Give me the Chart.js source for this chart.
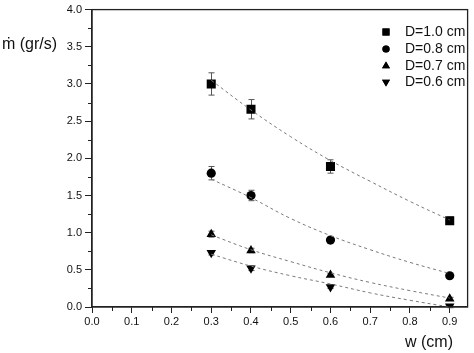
<!DOCTYPE html>
<html>
<head>
<meta charset="utf-8">
<script src="https://cdn.jsdelivr.net/npm/chart.js@4"></script>
<style>
  html, body { margin: 0; padding: 0; background: #fff; }
  #wrap { width: 474px; height: 353px; }
</style>
</head>
<body>
<div id="wrap"><canvas id="flowChart" width="474" height="353"></canvas></div>
<script>
// measured points
const widths = [0.3, 0.4, 0.6, 0.9];
const seriesLabels = ["D=1.0 cm", "D=0.8 cm", "D=0.7 cm", "D=0.6 cm"];
const flow10 = [3.00, 2.66, 1.89, 1.16];
const flow08 = [1.80, 1.50, 0.90, 0.42];
const flow07 = [0.98, 0.76, 0.43, 0.11];
const flow06 = [0.73, 0.52, 0.27, 0.01];
const err10 = [0.15, 0.13, 0.09, 0.05];
const err08 = [0.09, 0.07, 0.03, 0.02];
const err07 = [0.04, 0.03, 0.02, 0.02];
const err06 = [0.03, 0.03, 0.02, 0.02];

// fitted curves (dotted)
const fitW = [0.3, 0.4, 0.5, 0.6, 0.7, 0.8, 0.9];
const fit10 = [3.05, 2.65, 2.29, 1.97, 1.69, 1.42, 1.17];
const fit08 = [1.72, 1.47, 1.19, 0.96, 0.77, 0.60, 0.45];
const fit07 = [0.97, 0.77, 0.61, 0.46, 0.33, 0.22, 0.12];
const fit06 = [0.71, 0.55, 0.42, 0.31, 0.19, 0.09, 0.00];

const yTicks = [0, 0.5, 1, 1.5, 2, 2.5, 3, 3.5, 4];
const xTicks = [0, 0.1, 0.2, 0.3, 0.4, 0.5, 0.6, 0.7, 0.8, 0.9];

const pts = (xs, ys) => xs.map((x, i) => ({ x: x, y: ys[i] }));

const markerStyles = [
    { pointStyle: "rect", radius: 6.4, rotation: 0 },
    { pointStyle: "circle", radius: 4.6, rotation: 0 },
    { pointStyle: "triangle", radius: 5.5, rotation: 0 },
    { pointStyle: "triangle", radius: 5.5, rotation: 180 }
];
const flows = [flow10, flow08, flow07, flow06];
const errs = [err10, err08, err07, err06];
const fits = [fit10, fit08, fit07, fit06];

const datasets = [];
fits.forEach(f => {
    datasets.push({
        data: pts(fitW, f),
        showLine: true,
        borderColor: "#7a7a7a",
        borderWidth: 1,
        borderDash: [3, 3],
        pointRadius: 0,
        tension: 0.4,
        fill: false,
        isFit: true
    });
});
flows.forEach((f, i) => {
    datasets.push({
        label: seriesLabels[i],
        data: pts(widths, f),
        errors: errs[i],
        showLine: false,
        pointStyle: markerStyles[i].pointStyle,
        pointRadius: markerStyles[i].radius,
        pointRotation: markerStyles[i].rotation,
        backgroundColor: "#000",
        borderColor: "#000",
        borderWidth: 0
    });
});

const frameAndExtras = {
    id: "frameAndExtras",
    beforeDatasetsDraw(chart) {
        const { ctx, scales: { x, y } } = chart;
        // error bars
        ctx.save();
        ctx.strokeStyle = "#555";
        ctx.lineWidth = 1;
        chart.data.datasets.forEach(ds => {
            if (!ds.errors) return;
            ds.data.forEach((p, i) => {
                const e = ds.errors[i];
                const px = Math.round(x.getPixelForValue(p.x)) + 0.5;
                const top = y.getPixelForValue(p.y + e);
                const bot = y.getPixelForValue(p.y - e);
                ctx.beginPath();
                ctx.moveTo(px, top); ctx.lineTo(px, bot);
                ctx.moveTo(px - 3, top); ctx.lineTo(px + 3, top);
                ctx.moveTo(px - 3, bot); ctx.lineTo(px + 3, bot);
                ctx.stroke();
            });
        });
        ctx.restore();
    },
    afterDraw(chart) {
        const { ctx, chartArea: a, scales: { x, y } } = chart;
        ctx.save();
        // frame
        ctx.strokeStyle = "#222";
        ctx.lineWidth = 1.3;
        ctx.strokeRect(a.left, a.top, a.right - a.left, a.bottom - a.top);
        // minor ticks
        ctx.lineWidth = 1;
        ctx.beginPath();
        for (let v = 0.25; v < 4; v += 0.5) {
            const py = Math.round(y.getPixelForValue(v)) + 0.5;
            ctx.moveTo(a.left - 4, py); ctx.lineTo(a.left, py);
        }
        for (let v = 0.05; v < 0.94; v += 0.1) {
            const px = Math.round(x.getPixelForValue(v)) + 0.5;
            ctx.moveTo(px, a.bottom); ctx.lineTo(px, a.bottom + 4);
        }
        ctx.stroke();

        // axis titles
        ctx.fillStyle = "#111";
        ctx.font = "16px 'Liberation Sans', Arial, sans-serif";
        ctx.textBaseline = "middle";
        ctx.textAlign = "left";
        ctx.fillText("ṁ (gr/s)", 2, 45);
        ctx.fillText("w (cm)", 405, 343);

        // legend
        ctx.font = "14px 'Liberation Sans', Arial, sans-serif";
        const legendMarks = [
            { style: "rect", r: 5, rot: 0 },
            { style: "circle", r: 3.6, rot: 0 },
            { style: "triangle", r: 4.6, rot: 0 },
            { style: "triangle", r: 4.6, rot: 180 }
        ];
        const rowY = [32, 49, 66, 82];
        seriesLabels.forEach((lab, i) => {
            ctx.fillStyle = "#000";
            Chart.helpers.drawPoint(ctx, {
                pointStyle: legendMarks[i].style,
                radius: legendMarks[i].r,
                rotation: legendMarks[i].rot,
                borderWidth: 0
            }, 386, rowY[i]);
            ctx.fill();
            ctx.fillStyle = "#111";
            ctx.fillText(lab, 405, rowY[i]);
        });
        ctx.restore();
    }
};

const tickFont = { family: "'Liberation Sans', Arial, sans-serif", size: 11 };

new Chart(document.getElementById("flowChart").getContext("2d"), {
    type: "scatter",
    data: { datasets: datasets },
    options: {
        responsive: false,
        animation: false,
        layout: { padding: { top: 7, right: 4, left: 0, bottom: 0 } },
        plugins: { legend: { display: false }, tooltip: { enabled: false } },
        scales: {
            x: {
                type: "linear",
                min: 0,
                max: 0.945,
                afterBuildTicks: s => { s.ticks = xTicks.map(v => ({ value: v })); },
                afterFit: s => { s.height = 46; },
                ticks: {
                    font: tickFont,
                    color: "#111",
                    padding: 2,
                    autoSkip: false,
                    maxRotation: 0,
                    callback: v => v.toFixed(1)
                },
                grid: { drawOnChartArea: false, tickLength: 6, color: "#222", tickWidth: 1 },
                border: { display: true, color: "#222", width: 1.3 }
            },
            y: {
                type: "linear",
                min: 0,
                max: 4,
                afterBuildTicks: s => { s.ticks = yTicks.map(v => ({ value: v })); },
                afterFit: s => { s.width = 92; },
                ticks: {
                    font: tickFont,
                    color: "#111",
                    padding: 3,
                    autoSkip: false,
                    callback: v => v.toFixed(1)
                },
                grid: { drawOnChartArea: false, tickLength: 7, color: "#222", tickWidth: 1 },
                border: { display: true, color: "#222", width: 1.3 }
            }
        }
    },
    plugins: [frameAndExtras]
});
</script>
</body>
</html>
